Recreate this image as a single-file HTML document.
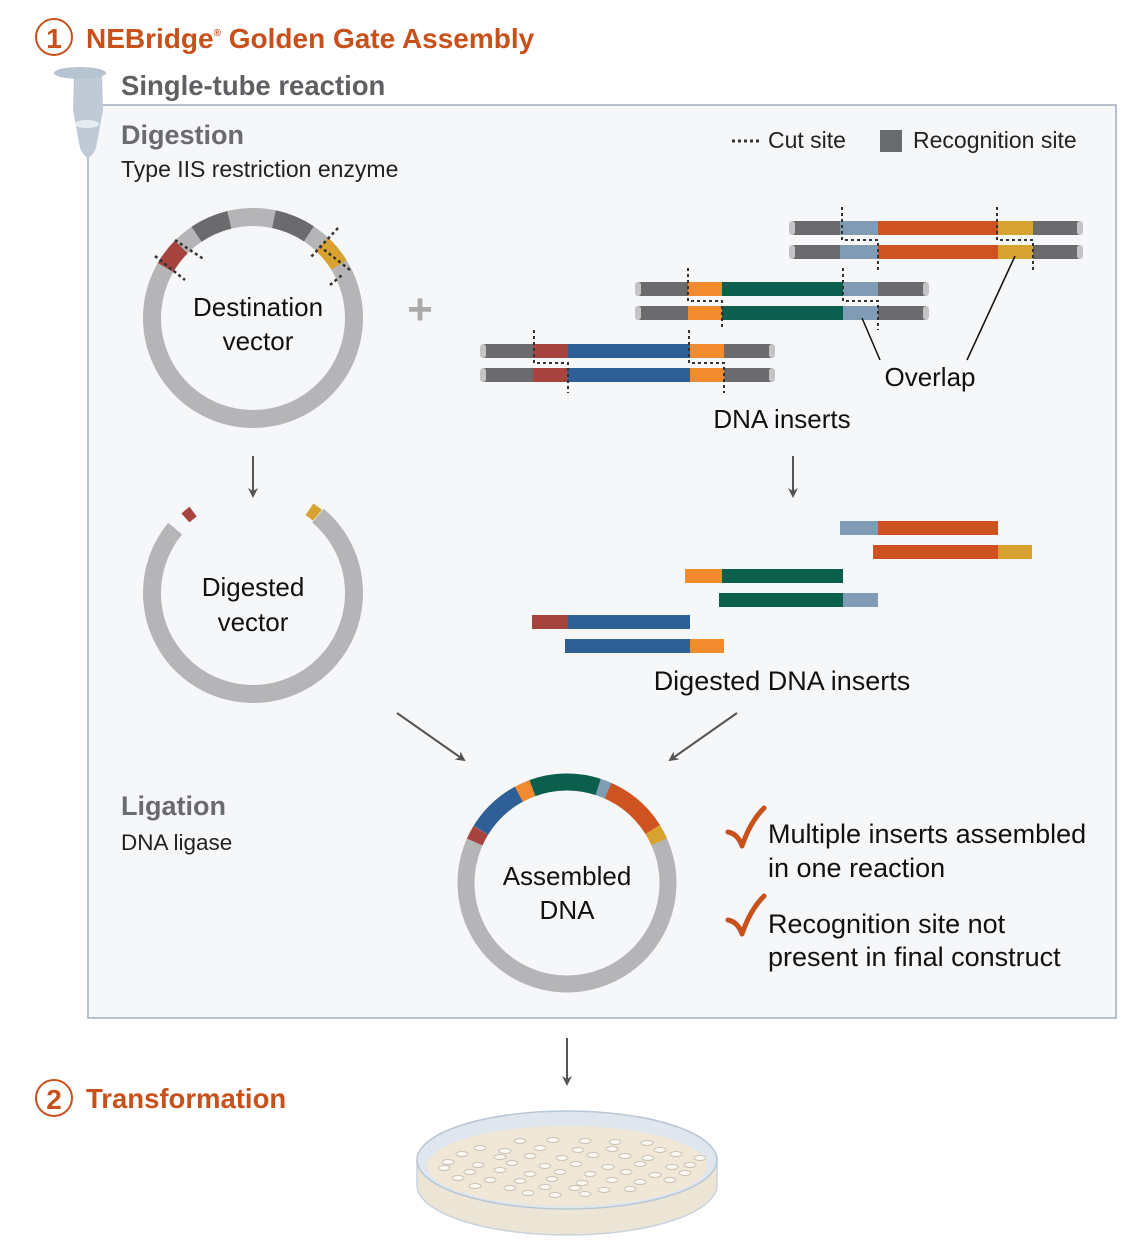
<!DOCTYPE html>
<html><head><meta charset="utf-8"><style>
html,body{margin:0;padding:0;background:#fff}
svg{display:block}
text{font-family:"Liberation Sans",Arial,sans-serif}
</style></head><body>
<svg width="1141" height="1248" viewBox="0 0 1141 1248" xmlns="http://www.w3.org/2000/svg">
<defs>
<marker id="ah" markerWidth="10" markerHeight="10" refX="8" refY="5" orient="auto" markerUnits="userSpaceOnUse">
<path d="M0,0 L10,5 L0,10 L3,5 Z" fill="#555"/></marker>
</defs>
<!-- Title -->
<circle cx="54" cy="37" r="18" fill="none" stroke="#c8511b" stroke-width="2"/>
<text x="54" y="48" font-size="28" fill="#c8511b" text-anchor="middle" font-weight="bold">1</text>
<text x="86" y="48" font-size="28" font-weight="bold" fill="#c8511b">NEBridge<tspan font-size="10" dy="-12">®</tspan><tspan dy="12"> Golden Gate Assembly</tspan></text>
<text x="121" y="95" font-size="27.5" font-weight="bold" fill="#5f6063">Single-tube reaction</text>
<!-- box -->
<rect x="88" y="105" width="1028" height="913" fill="#f6f7f9" stroke="#9eadbd" stroke-width="1.5"/>
<!-- tube -->
<path d="M74,76 L102,76 L103,110 L96,148 Q88,166 80,148 L73,110 Z" fill="#bfcad6"/>
<ellipse cx="80" cy="73" rx="26" ry="6" fill="#b6c3d1"/>
<ellipse cx="87" cy="124" rx="12" ry="4" fill="#e6ebf0"/>
<text x="121" y="144" font-size="27" font-weight="bold" fill="#6a6b6e">Digestion</text>
<text x="121" y="177" font-size="23" fill="#222">Type IIS restriction enzyme</text>
<line x1="732" y1="141" x2="760" y2="141" stroke="#333" stroke-width="3" stroke-dasharray="3,3"/>
<text x="768" y="148" font-size="23" fill="#222">Cut site</text>
<rect x="880" y="130" width="22" height="22" fill="#6a6b6e"/>
<text x="913" y="148" font-size="23" fill="#222">Recognition site</text>

<!-- Destination vector -->
<g fill="none" stroke-width="18">
<circle cx="253" cy="318" r="101" stroke="#b5b5b7"/>
<circle cx="253" cy="318" r="101" stroke="#a8443f" stroke-dasharray="26 700" transform="rotate(-150 253 318)"/>
<circle cx="253" cy="318" r="101" stroke="#6b6b6d" stroke-dasharray="36 700" transform="rotate(-124 253 318)"/>
<circle cx="253" cy="318" r="101" stroke="#6b6b6d" stroke-dasharray="38 700" transform="rotate(-78 253 318)"/>
<circle cx="253" cy="318" r="101" stroke="#d8a230" stroke-dasharray="27 700" transform="rotate(-47 253 318)"/>
</g>
<g stroke="#333" stroke-width="2.5" stroke-dasharray="3,3">
<line x1="155" y1="256" x2="185" y2="280"/>
<line x1="175" y1="240" x2="205" y2="260"/>
<line x1="338" y1="228" x2="310" y2="258"/>
<line x1="350" y1="270" x2="318" y2="245"/>
<line x1="330" y1="285" x2="342" y2="275"/>
</g>
<text x="258" y="316" font-size="26" fill="#111" text-anchor="middle">Destination</text>
<text x="258" y="350" font-size="26" fill="#111" text-anchor="middle">vector</text>
<text x="420" y="324" font-size="44" fill="#aaa" text-anchor="middle" font-weight="bold">+</text>

<!-- bars -->
<g stroke-width="14" stroke-linecap="butt">
<line x1="792" y1="228" x2="840" y2="228" stroke="#6b6b6d"/><line x1="840" y1="228" x2="878" y2="228" stroke="#7f9cb4"/><line x1="878" y1="228" x2="998" y2="228" stroke="#cf5320"/><line x1="998" y1="228" x2="1033" y2="228" stroke="#d8a230"/><line x1="1033" y1="228" x2="1080" y2="228" stroke="#6b6b6d"/>
<line x1="792" y1="252" x2="840" y2="252" stroke="#6b6b6d"/><line x1="840" y1="252" x2="878" y2="252" stroke="#7f9cb4"/><line x1="878" y1="252" x2="998" y2="252" stroke="#cf5320"/><line x1="998" y1="252" x2="1033" y2="252" stroke="#d8a230"/><line x1="1033" y1="252" x2="1080" y2="252" stroke="#6b6b6d"/>
<line x1="638" y1="289" x2="688" y2="289" stroke="#6b6b6d"/><line x1="688" y1="289" x2="722" y2="289" stroke="#f28a30"/><line x1="722" y1="289" x2="843" y2="289" stroke="#0c5f4c"/><line x1="843" y1="289" x2="878" y2="289" stroke="#7f9cb4"/><line x1="878" y1="289" x2="926" y2="289" stroke="#6b6b6d"/>
<line x1="638" y1="313" x2="688" y2="313" stroke="#6b6b6d"/><line x1="688" y1="313" x2="722" y2="313" stroke="#f28a30"/><line x1="722" y1="313" x2="843" y2="313" stroke="#0c5f4c"/><line x1="843" y1="313" x2="878" y2="313" stroke="#7f9cb4"/><line x1="878" y1="313" x2="926" y2="313" stroke="#6b6b6d"/>
<line x1="483" y1="351" x2="533" y2="351" stroke="#6b6b6d"/><line x1="533" y1="351" x2="568" y2="351" stroke="#a8443f"/><line x1="568" y1="351" x2="690" y2="351" stroke="#2f5f97"/><line x1="690" y1="351" x2="724" y2="351" stroke="#f28a30"/><line x1="724" y1="351" x2="772" y2="351" stroke="#6b6b6d"/>
<line x1="483" y1="375" x2="533" y2="375" stroke="#6b6b6d"/><line x1="533" y1="375" x2="568" y2="375" stroke="#a8443f"/><line x1="568" y1="375" x2="690" y2="375" stroke="#2f5f97"/><line x1="690" y1="375" x2="724" y2="375" stroke="#f28a30"/><line x1="724" y1="375" x2="772" y2="375" stroke="#6b6b6d"/>
</g>
<g fill="#c4c4c6">
<rect x="789" y="221" width="6" height="14" rx="3"/><rect x="789" y="245" width="6" height="14" rx="3"/>
<rect x="1077" y="221" width="6" height="14" rx="3"/><rect x="1077" y="245" width="6" height="14" rx="3"/>
<rect x="635" y="282" width="6" height="14" rx="3"/><rect x="635" y="306" width="6" height="14" rx="3"/>
<rect x="923" y="282" width="6" height="14" rx="3"/><rect x="923" y="306" width="6" height="14" rx="3"/>
<rect x="480" y="344" width="6" height="14" rx="3"/><rect x="480" y="368" width="6" height="14" rx="3"/>
<rect x="769" y="344" width="6" height="14" rx="3"/><rect x="769" y="368" width="6" height="14" rx="3"/>
</g>
<g stroke="#333" stroke-width="2" stroke-dasharray="3,3" fill="none">
<path d="M842,207 V240 H878 V270"/><path d="M997,207 V240 H1033 V270"/>
<path d="M688,268 V301 H722 V330"/><path d="M843,268 V301 H878 V330"/>
<path d="M534,330 V363 H568 V393"/><path d="M689,330 V363 H724 V393"/>
</g>
<g stroke="#111" stroke-width="1.5"><line x1="880" y1="360" x2="862" y2="318"/><line x1="967" y1="360" x2="1015" y2="256"/></g>
<text x="930" y="386" font-size="26" fill="#111" text-anchor="middle">Overlap</text>
<text x="782" y="428" font-size="26" fill="#111" text-anchor="middle">DNA inserts</text>

<!-- arrows -->
<g stroke="#555" stroke-width="2" marker-end="url(#ah)">
<line x1="253" y1="456" x2="253" y2="496"/>
<line x1="793" y1="456" x2="793" y2="496"/>
<line x1="397" y1="713" x2="464" y2="760"/>
<line x1="737" y1="713" x2="670" y2="760"/>
<line x1="567" y1="1038" x2="567" y2="1084"/>
</g>

<!-- Digested vector -->
<g fill="none" stroke-width="18">
<circle cx="253" cy="593" r="101" stroke="#b5b5b7" stroke-dasharray="475 700" transform="rotate(-50 253 593)"/>
<circle cx="253" cy="593" r="101" stroke="#a8443f" stroke-width="12" stroke-dasharray="10 700" transform="rotate(-132 253 593)"/>
<circle cx="253" cy="593" r="101" stroke="#d8a230" stroke-width="14" stroke-dasharray="10 700" transform="rotate(-56 253 593)"/>
</g>
<text x="253" y="596" font-size="26" fill="#111" text-anchor="middle">Digested</text>
<text x="253" y="631" font-size="26" fill="#111" text-anchor="middle">vector</text>

<!-- digested inserts -->
<g stroke-width="14">
<line x1="840" y1="528" x2="878" y2="528" stroke="#7f9cb4"/><line x1="878" y1="528" x2="998" y2="528" stroke="#cf5320"/>
<line x1="873" y1="552" x2="998" y2="552" stroke="#cf5320"/><line x1="998" y1="552" x2="1032" y2="552" stroke="#d8a230"/>
<line x1="685" y1="576" x2="722" y2="576" stroke="#f28a30"/><line x1="722" y1="576" x2="843" y2="576" stroke="#0c5f4c"/>
<line x1="719" y1="600" x2="843" y2="600" stroke="#0c5f4c"/><line x1="843" y1="600" x2="878" y2="600" stroke="#7f9cb4"/>
<line x1="532" y1="622" x2="568" y2="622" stroke="#a8443f"/><line x1="568" y1="622" x2="690" y2="622" stroke="#2f5f97"/>
<line x1="565" y1="646" x2="690" y2="646" stroke="#2f5f97"/><line x1="690" y1="646" x2="724" y2="646" stroke="#f28a30"/>
</g>
<text x="782" y="690" font-size="27" fill="#111" text-anchor="middle">Digested DNA inserts</text>

<!-- Ligation -->
<text x="121" y="815" font-size="27" font-weight="bold" fill="#6a6b6e">Ligation</text>
<text x="121" y="850" font-size="22.5" fill="#222">DNA ligase</text>

<!-- Assembled -->
<g fill="none" stroke-width="17">
<circle cx="567" cy="883" r="101" stroke="#b5b5b7"/>
<circle cx="567" cy="883" r="101" stroke="#a8443f" stroke-dasharray="13 700" transform="rotate(-156 567 883)"/>
<circle cx="567" cy="883" r="101" stroke="#2f5f97" stroke-dasharray="53 700" transform="rotate(-148.5 567 883)"/>
<circle cx="567" cy="883" r="101" stroke="#f28a30" stroke-dasharray="15 700" transform="rotate(-118.5 567 883)"/>
<circle cx="567" cy="883" r="101" stroke="#0c5f4c" stroke-dasharray="67 700" transform="rotate(-110 567 883)"/>
<circle cx="567" cy="883" r="101" stroke="#7f9cb4" stroke-dasharray="11 700" transform="rotate(-72 567 883)"/>
<circle cx="567" cy="883" r="101" stroke="#cf5320" stroke-dasharray="60 700" transform="rotate(-66 567 883)"/>
<circle cx="567" cy="883" r="101" stroke="#d8a230" stroke-dasharray="14 700" transform="rotate(-32 567 883)"/>
</g>
<text x="567" y="885" font-size="26" fill="#111" text-anchor="middle">Assembled</text>
<text x="567" y="919" font-size="26" fill="#111" text-anchor="middle">DNA</text>

<path d="M728,832 Q738,834 742,846 Q750,822 764,808" fill="none" stroke="#c8511b" stroke-width="5" stroke-linecap="round" stroke-linejoin="round"/>
<text x="768" y="843" font-size="27" fill="#111">Multiple inserts assembled</text>
<text x="768" y="877" font-size="27" fill="#111">in one reaction</text>
<path d="M728,920 Q738,922 742,934 Q750,910 764,896" fill="none" stroke="#c8511b" stroke-width="5" stroke-linecap="round" stroke-linejoin="round"/>
<text x="768" y="933" font-size="27" fill="#111">Recognition site not</text>
<text x="768" y="966" font-size="27" fill="#111">present in final construct</text>

<!-- Transformation -->
<circle cx="54" cy="1098" r="18" fill="none" stroke="#c8511b" stroke-width="2"/>
<text x="54" y="1109" font-size="28" fill="#c8511b" text-anchor="middle" font-weight="bold">2</text>
<text x="86" y="1108" font-size="27.5" font-weight="bold" fill="#c8511b">Transformation</text>

<!-- petri dish -->
<path d="M417,1160 L417,1185 A150,50 0 0 0 717,1185 L717,1160 Z" fill="#ece5d6" stroke="#c9d3de" stroke-width="1.5"/>
<ellipse cx="567" cy="1160" rx="150" ry="49" fill="#dfe6ee" stroke="#b9c6d4" stroke-width="1.5"/>
<ellipse cx="567" cy="1166" rx="140" ry="40" fill="#f1e7d6"/>
<g fill="#fbf8f2" stroke="#c9c3b6" stroke-width="1">
<ellipse cx="520" cy="1141" rx="6" ry="2.5"/><ellipse cx="553" cy="1140" rx="6" ry="2.5"/><ellipse cx="585" cy="1141" rx="6" ry="2.5"/><ellipse cx="615" cy="1142" rx="6" ry="2.5"/><ellipse cx="647" cy="1143" rx="6" ry="2.5"/>
<ellipse cx="480" cy="1148" rx="6" ry="2.5"/><ellipse cx="505" cy="1151" rx="6" ry="2.5"/><ellipse cx="540" cy="1148" rx="6" ry="2.5"/><ellipse cx="578" cy="1150" rx="6" ry="2.5"/><ellipse cx="612" cy="1149" rx="6" ry="2.5"/><ellipse cx="660" cy="1150" rx="6" ry="2.5"/>
<ellipse cx="462" cy="1154" rx="6" ry="2.5"/><ellipse cx="500" cy="1157" rx="6" ry="2.5"/><ellipse cx="530" cy="1156" rx="6" ry="2.5"/><ellipse cx="562" cy="1158" rx="6" ry="2.5"/><ellipse cx="593" cy="1155" rx="6" ry="2.5"/><ellipse cx="625" cy="1156" rx="6" ry="2.5"/><ellipse cx="648" cy="1158" rx="6" ry="2.5"/><ellipse cx="676" cy="1154" rx="6" ry="2.5"/><ellipse cx="700" cy="1158" rx="6" ry="2.5"/>
<ellipse cx="448" cy="1162" rx="6" ry="2.5"/><ellipse cx="478" cy="1165" rx="6" ry="2.5"/><ellipse cx="512" cy="1163" rx="6" ry="2.5"/><ellipse cx="545" cy="1166" rx="6" ry="2.5"/><ellipse cx="576" cy="1164" rx="6" ry="2.5"/><ellipse cx="608" cy="1167" rx="6" ry="2.5"/><ellipse cx="640" cy="1164" rx="6" ry="2.5"/><ellipse cx="672" cy="1167" rx="6" ry="2.5"/><ellipse cx="690" cy="1165" rx="6" ry="2.5"/>
<ellipse cx="444" cy="1168" rx="6" ry="2.5"/><ellipse cx="470" cy="1172" rx="6" ry="2.5"/><ellipse cx="500" cy="1170" rx="6" ry="2.5"/><ellipse cx="530" cy="1174" rx="6" ry="2.5"/><ellipse cx="560" cy="1172" rx="6" ry="2.5"/><ellipse cx="590" cy="1174" rx="6" ry="2.5"/><ellipse cx="626" cy="1172" rx="6" ry="2.5"/><ellipse cx="655" cy="1175" rx="6" ry="2.5"/><ellipse cx="685" cy="1173" rx="6" ry="2.5"/>
<ellipse cx="458" cy="1178" rx="6" ry="2.5"/><ellipse cx="490" cy="1180" rx="6" ry="2.5"/><ellipse cx="520" cy="1181" rx="6" ry="2.5"/><ellipse cx="552" cy="1179" rx="6" ry="2.5"/><ellipse cx="582" cy="1183" rx="6" ry="2.5"/><ellipse cx="612" cy="1180" rx="6" ry="2.5"/><ellipse cx="640" cy="1182" rx="6" ry="2.5"/><ellipse cx="670" cy="1180" rx="6" ry="2.5"/>
<ellipse cx="475" cy="1186" rx="6" ry="2.5"/><ellipse cx="510" cy="1188" rx="6" ry="2.5"/><ellipse cx="545" cy="1187" rx="6" ry="2.5"/><ellipse cx="575" cy="1188" rx="6" ry="2.5"/><ellipse cx="604" cy="1190" rx="6" ry="2.5"/><ellipse cx="630" cy="1189" rx="6" ry="2.5"/>
<ellipse cx="528" cy="1193" rx="6" ry="2.5"/><ellipse cx="555" cy="1195" rx="6" ry="2.5"/><ellipse cx="585" cy="1194" rx="6" ry="2.5"/>
</g>
</svg>
</body></html>
